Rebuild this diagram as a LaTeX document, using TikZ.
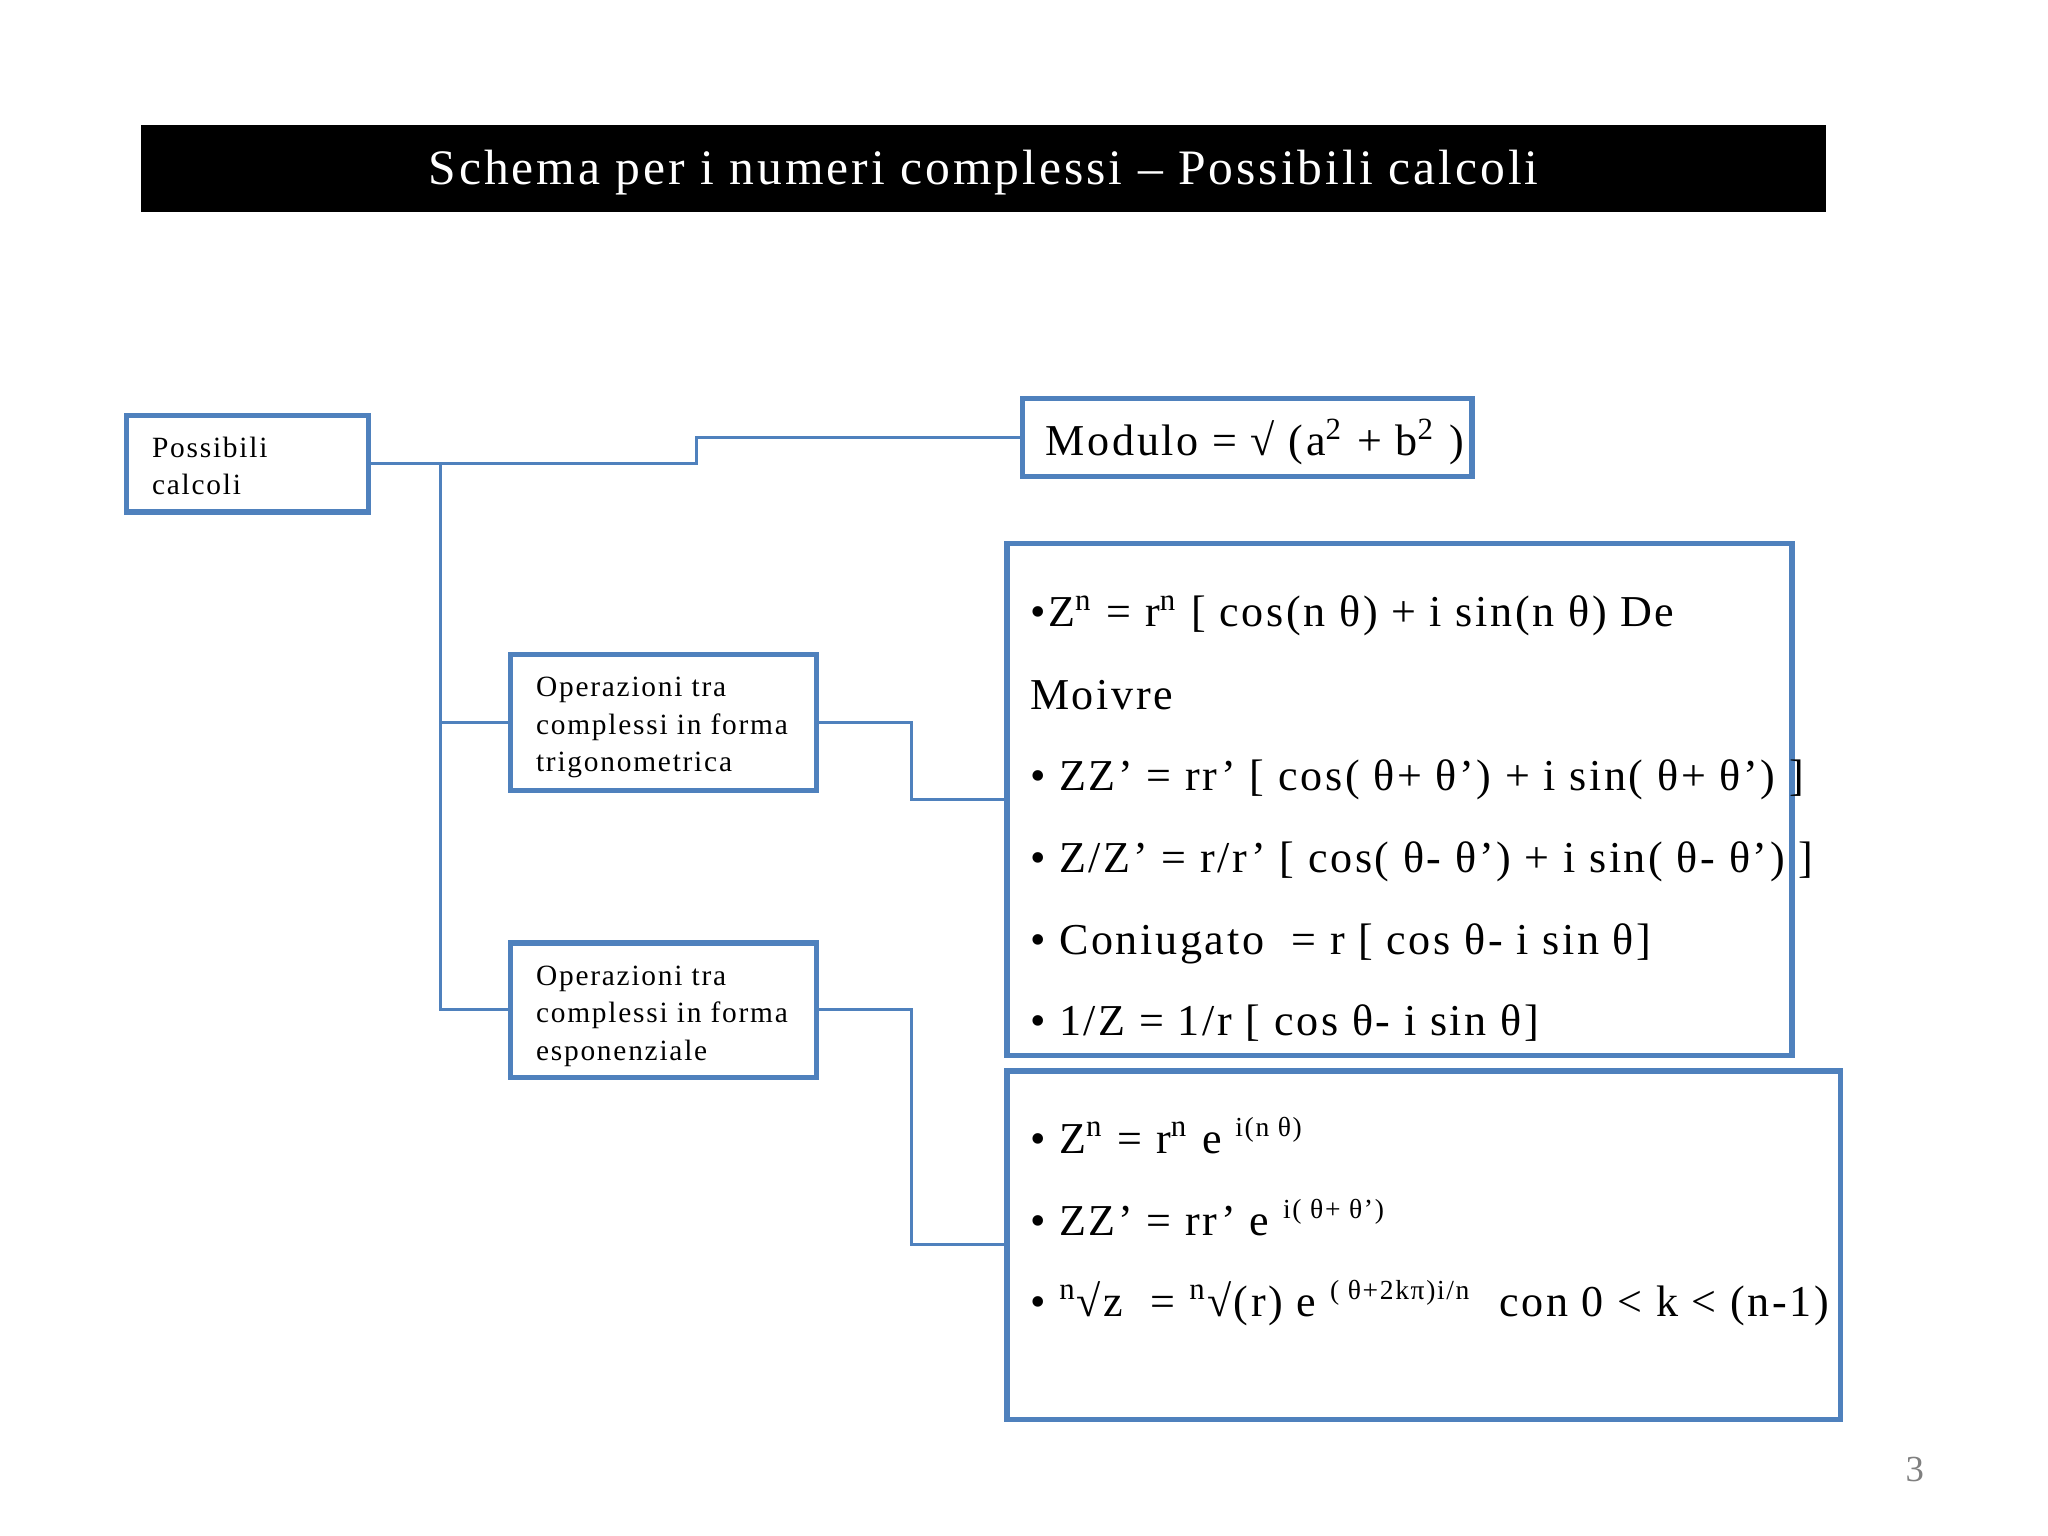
\documentclass[tikz,border=0pt]{standalone}
\usepackage{fontspec}
\setmainfont{Liberation Serif}[LetterSpace=6]
\begin{document}
\begin{tikzpicture}[x=0.01cm,y=-0.01cm,
  bx/.style={draw=boxblue,line width=1.1pt,inner sep=0pt},
  cn/.style={draw=boxblue,line width=0.6pt},
  small/.style={font=\fontsize{6.4}{8.2}\selectfont,align=left,anchor=north west},
  big/.style={font=\fontsize{9.6}{12}\selectfont,anchor=base west,inner sep=0pt}]
\definecolor{boxblue}{HTML}{4F81BD}
\useasboundingbox (0,0) rectangle (1568,1176);
\fill[black] (108,96) rectangle (1398,162);
\node[text=white,font=\fontsize{10.8}{13}\selectfont] (title) at (753,132) {Schema per i numeri complessi -- Possibili calcoli};
% boxes
\draw[bx] (97,318) rectangle (282,392);
\node[small] (pc) at (104,322) {Possibili\\calcoli};
\draw[bx] (783,305) rectangle (1127,365);
\node[big] (mod) at (800,349) {Modulo = √ (a\textsuperscript{2} + b\textsuperscript{2} )};
\draw[bx] (391,501) rectangle (625,605);
\node[small] (ot) at (398,506) {Operazioni tra\\complessi in forma\\trigonometrica};
\draw[bx] (391,722) rectangle (625,825);
\node[small] (oe) at (398,727) {Operazioni tra\\complessi in forma\\esponenziale};
\draw[bx] (771,416) rectangle (1372,808);
\node[big] at (788,480) {•Z\textsuperscript{n} = r\textsuperscript{n} [ cos(n θ) + i sin(n θ) De};
\node[big] at (788,543) {Moivre};
\node[big] at (788,605) {• ZZ’ = rr’ [ cos( θ+ θ’) + i sin( θ+ θ’) ]};
\node[big] at (788,668) {• Z/Z’ = r/r’ [ cos( θ- θ’) + i sin( θ- θ’) ]};
\node[big] at (788,731) {• Coniugato \ = r [ cos θ- i sin θ]};
\node[big] at (788,793) {• 1/Z = 1/r [ cos θ- i sin θ]};
\draw[bx] (771,820) rectangle (1409,1087);
\node[big] at (788,883) {• Z\textsuperscript{n} = r\textsuperscript{n} e \textsuperscript{\fontsize{6}{7}\selectfont i(n θ)}};
\node[big] at (788,946) {• ZZ’ = rr’ e \textsuperscript{\fontsize{6}{7}\selectfont i( θ+ θ’)}};
\node[big] at (788,1008) {• \textsuperscript{n}√z \ = \textsuperscript{n}√(r) e \textsuperscript{\fontsize{6}{7}\selectfont ( θ+2kπ)i/n} \ con 0 < k < (n-1)};
\node[text=gray,font=\fontsize{8}{9}\selectfont] (pg) at (1466,1125) {3};
% connectors
\draw[cn] (282,355) -- (533,355) -- (533,335) -- (783,335);
\draw[cn] (337,355) -- (337,773) -- (391,773);
\draw[cn] (337,553) -- (391,553);
\draw[cn] (625,553) -- (698,553) -- (698,612) -- (771,612);
\draw[cn] (625,773) -- (698,773) -- (698,953) -- (771,953);
\end{tikzpicture}
\end{document}
